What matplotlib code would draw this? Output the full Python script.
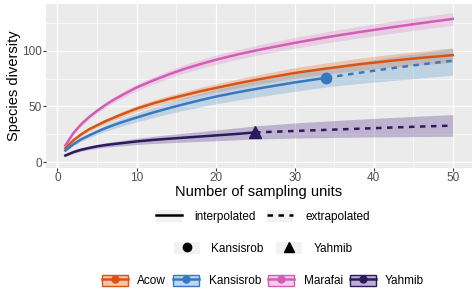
import numpy as np
import matplotlib
matplotlib.use("Agg")
import matplotlib.pyplot as plt
from matplotlib.lines import Line2D
from matplotlib.patches import Patch
from matplotlib.legend_handler import HandlerTuple

plt.rcParams['font.family'] = ['Liberation Sans', 'DejaVu Sans']

# data
x_obs = [1, 2, 3, 4, 5, 6, 7, 8, 10, 12, 14, 16, 18, 20, 23, 26, 30, 34, 38, 42, 46, 50]

acow = [12.5, 19.5, 25, 29.5, 33, 36.5, 39.5, 42.5, 48, 52.5, 56.5, 60, 63.5, 66.5,
        71, 75, 80, 84, 87.7, 90.8, 93.6, 96]
acow_lo = [11.5, 18, 23.3, 27.6, 31, 34.3, 37.2, 40, 45.3, 49.6, 53.4, 56.7, 60, 62.8,
           67, 70.7, 75.3, 79, 82.3, 85, 87.5, 89.5]
acow_hi = [13.5, 21, 26.7, 31.4, 35, 38.7, 41.8, 45, 50.7, 55.4, 59.6, 63.3, 67, 70.2,
           75, 79.3, 84.7, 89, 93.1, 96.6, 99.7, 102.5]

marafai = [15, 26, 34, 40.5, 46, 51, 55.5, 59.5, 67, 73, 78.5, 83.5, 87.8, 91.8,
           97, 101.5, 107, 112, 116.5, 120.7, 124.7, 128.5]
marafai_lo = [14, 24.5, 32.3, 38.6, 43.9, 48.7, 53, 56.8, 64, 69.8, 75, 79.8, 83.8, 87.6,
              92.6, 96.9, 102.2, 107, 111.3, 115.3, 119.1, 122.8]
marafai_hi = [16, 27.5, 35.7, 42.4, 48.1, 53.3, 58, 62.2, 70, 76.2, 82, 87.2, 91.8, 96,
              101.4, 106.1, 111.8, 117, 121.7, 126.1, 130.3, 134.2]

kans_x = [1, 2, 3, 4, 5, 6, 7, 8, 10, 12, 14, 16, 18, 20, 23, 26, 30, 34]
kans = [10.5, 16, 20.5, 24, 27.3, 30.3, 33, 35.5, 40, 44.3, 48.3, 52, 55.5, 58.8,
        63, 66.8, 71.5, 75.7]
kans_ext_x = [34, 38, 42, 46, 50]
kans_ext = [75.7, 80, 84, 87.7, 91]
kans_rib_x = kans_x + kans_ext_x[1:]
kans_lo = [9.5, 14.6, 18.7, 21.8, 24.8, 27.5, 29.8, 32, 36, 39.8, 43.3, 46.5, 49.5, 52.3,
           56, 59.3, 63.5, 67.5, 70.5, 73, 75.5, 78]
kans_hi = [11.5, 17.4, 22.3, 26.2, 29.8, 33.1, 36.2, 39, 44, 48.8, 53.3, 57.5, 61.5, 65.3,
           70, 74.3, 79.5, 84.5, 89.5, 94, 98, 102]

yah_x = [1, 2, 3, 4, 5, 6, 7, 8, 10, 12, 14, 16, 18, 20, 23, 25]
yah = [6, 9, 11.2, 12.8, 14.2, 15.3, 16.2, 17, 18.6, 19.9, 21, 22, 23, 24, 25.5, 26.7]
yah_ext_x = [25, 30, 34, 38, 42, 46, 50]
yah_ext = [26.7, 28, 29, 30, 31, 32, 32.8]
yah_rib_x = yah_x + yah_ext_x[1:]
yah_lo = [5, 7.8, 9.8, 11.2, 12.4, 13.3, 14, 14.6, 15.8, 16.7, 17.4, 18, 18.6, 19.2,
          20.2, 20.8, 21.6, 22.1, 22.5, 22.8, 23, 23.2]
yah_hi = [7, 10.2, 12.6, 14.4, 16, 17.3, 18.4, 19.4, 21.4, 23.1, 24.6, 26, 27.4, 28.8,
          31, 32.6, 35.2, 36.9, 38.5, 40, 41.4, 42.6]

sites = ['Acow', 'Kansisrob', 'Marafai', 'Yahmib']
colors = {'Acow': '#D75418', 'Kansisrob': '#3878C2',
          'Marafai': '#D25DB4', 'Yahmib': '#2C1A5E'}
ribbon = {'Acow': ('#E8702A', 0.3), 'Kansisrob': ('#5A9BD0', 0.3),
          'Marafai': ('#E070C8', 0.25), 'Yahmib': ('#6A4C9C', 0.35)}

fig = plt.figure(figsize=(4.74, 2.97), dpi=100)
ax = fig.add_axes([0.097, 0.434, 0.899, 0.553])
ax.set_facecolor('#EBEBEB')

# ribbons
ax.fill_between(x_obs, acow_lo, acow_hi, color=ribbon['Acow'][0], alpha=ribbon['Acow'][1], lw=0)
ax.fill_between(kans_rib_x, kans_lo, kans_hi, color=ribbon['Kansisrob'][0],
                alpha=ribbon['Kansisrob'][1], lw=0)
ax.fill_between(x_obs, marafai_lo, marafai_hi, color=ribbon['Marafai'][0],
                alpha=ribbon['Marafai'][1], lw=0)
ax.fill_between(yah_rib_x, yah_lo, yah_hi, color=ribbon['Yahmib'][0],
                alpha=ribbon['Yahmib'][1], lw=0)

# lines
lw = 1.8
dash = (0, (2.2, 2.2))
ax.plot(x_obs, acow, color=colors['Acow'], lw=lw)
ax.plot(x_obs, marafai, color=colors['Marafai'], lw=lw)
ax.plot(kans_x, kans, color=colors['Kansisrob'], lw=lw)
ax.plot(kans_ext_x, kans_ext, color=colors['Kansisrob'], lw=lw, ls=dash)
ax.plot(yah_x, yah, color=colors['Yahmib'], lw=lw)
ax.plot(yah_ext_x, yah_ext, color=colors['Yahmib'], lw=lw, ls=dash)
ax.plot([kans_x[-1]], [kans[-1]], 'o', color=colors['Kansisrob'], ms=7.5)
ax.plot([yah_x[-1]], [yah[-1]], '^', color=colors['Yahmib'], ms=8.5)

ax.set_xlim(-1.45, 52.45)
ax.set_ylim(-5.3, 142)
ax.set_xticks([0, 10, 20, 30, 40, 50])
ax.set_yticks([0, 50, 100])
ax.set_xticks([5, 15, 25, 35, 45], minor=True)
ax.set_yticks([25, 75, 125], minor=True)
ax.grid(which='major', color='white', lw=0.9)
ax.grid(which='minor', color='white', lw=0.45)
ax.set_axisbelow(True)
for s in ax.spines.values():
    s.set_visible(False)
ax.tick_params(which='major', length=2, color='#333333', labelsize=8.5,
               labelcolor='#4D4D4D', pad=0.8)
ax.tick_params(which='minor', length=0)
ax.set_xlabel('Number of sampling units', fontsize=10.5, labelpad=1)
ax.set_ylabel('Species diversity', fontsize=10.5, labelpad=1)

# legends
key_bg = Patch(facecolor='#F2F2F2', edgecolor='none')
tuple_map = {tuple: HandlerTuple(ndivide=1, pad=0)}

lt_handles = [(key_bg, Line2D([], [], color='black', lw=1.8)),
              (key_bg, Line2D([], [], color='black', lw=1.8, ls=dash))]
fig.legend(lt_handles, ['interpolated', 'extrapolated'], ncol=2,
           loc='center', bbox_to_anchor=(0.555, 0.27), frameon=False,
           fontsize=8.5, handlelength=2.2, handleheight=1.2, columnspacing=1.0,
           handletextpad=1.0, handler_map=tuple_map)

sh_handles = [(key_bg, Line2D([], [], ls='none', marker='o', color='black', ms=6)),
              (key_bg, Line2D([], [], ls='none', marker='^', color='black', ms=7))]
fig.legend(sh_handles, ['Kansisrob', 'Yahmib'], ncol=2,
           loc='center', bbox_to_anchor=(0.555, 0.162), frameon=False,
           fontsize=8.5, handlelength=2.2, handleheight=1.2, columnspacing=1.0,
           handletextpad=1.0, handler_map=tuple_map)

col_handles = [(Patch(facecolor=ribbon[s][0], alpha=ribbon[s][1] + 0.1, edgecolor='none'),
                Patch(facecolor='none', edgecolor=colors[s], lw=1.0),
                Line2D([], [], color=colors[s], lw=1.8, marker='o', ms=5))
               for s in sites]
fig.legend(col_handles, sites, ncol=4, loc='center',
           bbox_to_anchor=(0.555, 0.054), frameon=False, fontsize=8.5,
           handlelength=2.2, handleheight=1.1, columnspacing=0.6, handletextpad=0.8,
           handler_map=tuple_map)

fig.savefig('out.png', dpi=100)
